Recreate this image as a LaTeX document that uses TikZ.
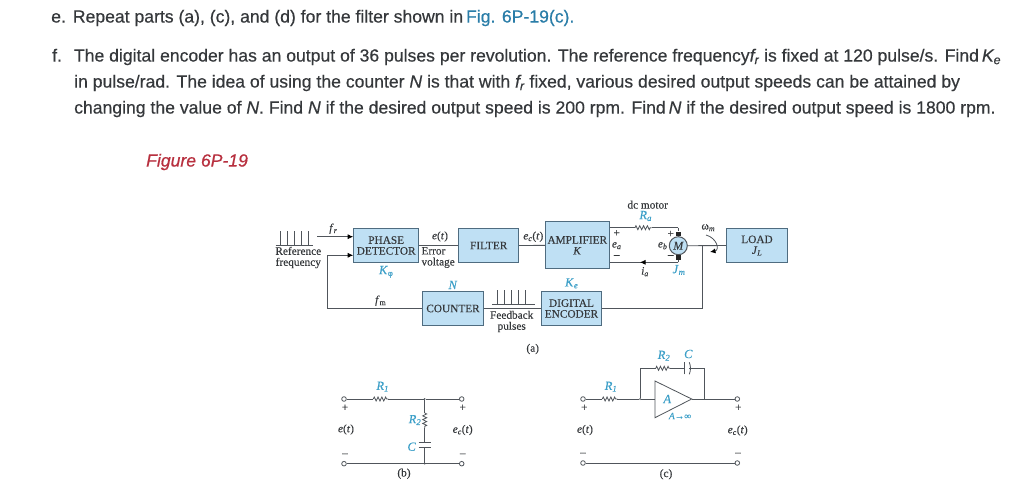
\documentclass[tikz,border=0pt]{standalone}
\usepackage{fontspec}
\setmainfont[FakeBold=0.45]{Liberation Sans}
\newfontfamily\figfont[FakeBold=0.12]{Liberation Serif}
\usepackage{xcolor}
\usetikzlibrary{arrows,arrows.meta,positioning,decorations.pathmorphing}
\definecolor{inkgray}{HTML}{35383B}
\definecolor{figred}{HTML}{B8303F}
\definecolor{figlink}{HTML}{2A7DA8}
\definecolor{wirecol}{HTML}{50555B}
\definecolor{blockfill}{HTML}{BFE0F4}
\definecolor{blockline}{HTML}{4F6C80}
\definecolor{symcol}{HTML}{3C9FC8}
\newcommand{\sym}[2]{\textit{#1}\textsubscript{\textit{#2}}}
\tikzset{
    >=stealth,
    para line/.style={anchor=west,inner sep=0pt,text=inkgray,font=\fontsize{17.6}{18}\selectfont},
    fig text/.style={inner sep=0pt,align=center,text=inkgray,font=\figfont\fontsize{11.3}{11}\selectfont},
    sym text/.style={fig text,text=symcol,font=\figfont\fontsize{12.5}{12}\selectfont},
    block/.style={rectangle,draw=blockline,line width=1pt,fill=blockfill,inner sep=0pt,align=center,text=inkgray,font=\figfont\fontsize{11.3}{10.8}\selectfont},
    wire/.style={draw=wirecol,line width=0.8pt},
    solid tip/.style={-{Latex[length=5.5pt,width=5pt,black]}},
    resistor/.style={wire,decorate,decoration={zigzag,segment length=3.8pt,amplitude=2pt}},
    terminal/.style={circle,draw=wirecol,line width=0.8pt,fill=white,inner sep=0pt,minimum size=4.6pt},
    brush/.style={rectangle,fill=black!85,inner sep=0pt,minimum width=5.5pt,minimum height=4.5pt},
    solder/.style={circle,fill=wirecol,inner sep=0pt,minimum size=2pt}
}
\begin{document}
\begin{tikzpicture}[x=1pt,y=-1pt]
    \useasboundingbox[fill=white] (0,0) rectangle (1011,497);
    % text above the figure
    \node[para line] (linee) at (51,18) {e.\hspace{7pt}Repeat parts (a), (c), and (d) for the filter shown in\,\textcolor{figlink}{Fig. 6P-19(c).}};
    \node[para line] (linef) at (52,57) {f.\hspace{12pt}The digital encoder has an output of 36 pulses per revolution. The reference frequency\textit{f\textsubscript{r}} is fixed at 120 pulse/s. Find\,\textit{K\textsubscript{e}}};
    \node[para line] (lineg) at (74,83) {in pulse/rad. The idea of using the counter \textit{N} is that with \textit{f\textsubscript{r}} fixed, various desired output speeds can be attained by};
    \node[para line] (lineh) at (74,109) {changing the value of \textit{N}. Find \textit{N} if the desired output speed is 200 rpm. Find\,\textit{N} if the desired output speed is 1800 rpm.};
    \node[para line,text=figred] (figname) at (146,162) {\textit{Figure 6P-19}};
    % part (a) blocks
    \node[block,minimum width=65pt,minimum height=33.6pt] (phase) at (386.2,245.5) {PHASE\\DETECTOR};
    \node[block,minimum width=60pt,minimum height=33.6pt] (filter) at (488.7,245.5) {FILTER};
    \node[block,minimum width=64pt,minimum height=46.7pt] (amp) at (577.3,245.3) {AMPLIFIER\\\textit{K}};
    \node[block,minimum width=60.6pt,minimum height=33.6pt] (load) at (757,245.5) {LOAD\\\sym{J}{L}};
    \node[block,minimum width=60.6pt,minimum height=33.6pt] (counter) at (453,308.5) {COUNTER};
    \node[block,minimum width=60.4pt,minimum height=33.6pt] (encoder) at (571.5,308.5) {DIGITAL\\ENCODER};
    \node[circle,draw=wirecol,line width=1pt,fill=blockfill,inner sep=0pt,minimum size=18pt,font=\figfont\fontsize{12}{11}\selectfont\itshape,text=inkgray] (motor) at (678.3,245.7) {M};
    \node[brush] (brushtop) [above = 0pt of motor] {};
    \node[brush] (brushbot) [below = 0pt of motor] {};
    % part (a) free ends
    \coordinate (frstart) at (317.3,236.7);
    \coordinate (frend) at (phase.west |- frstart);
    \coordinate (fbend) at (phase.west |- 0,255.3);
    \coordinate (fbcorner) at (327.7,255.3);
    \coordinate (fbdown) at (327.7,308.5);
    \coordinate (shaft) at (702,245.5);
    \coordinate (shaftdown) at (702,308.5);
    \coordinate (ampup) at (amp.east |- 0,227.7);
    \coordinate (ampdown) at (amp.east |- 0,262.3);
    \coordinate (ra1) at (635,227.7);
    \coordinate (ra2) at (651.7,227.7);
    \coordinate (motorup) at (678.3,227.7);
    \coordinate (motordown) at (678.3,262.3);
    \coordinate (iarrow) at (640,262.3);
    \coordinate (refl) at (275.7,245.3);
    \coordinate (refr) at (313.3,245.3);
    \coordinate (pulsel) at (492.3,304.4);
    \coordinate (pulser) at (535,304.4);
    \path[wire]
        (frstart) edge [solid tip] (frend)
        (fbcorner) edge [solid tip] (fbend)
        (fbdown) edge (fbcorner)
        (counter) edge (fbdown)
        (counter) edge (encoder)
        (phase) edge (filter)
        (filter) edge (amp)
        (ampup) edge (ra1)
        (ra2) edge (motorup)
        (motorup) edge (brushtop)
        (ampdown) edge (motordown)
        (motordown) edge (brushbot)
        (motordown) edge [solid tip] (iarrow)
        (motor) edge (load)
        (shaft) edge (shaftdown)
        (shaftdown) edge (encoder)
        (refl) edge (refr)
        (pulsel) edge (pulser);
    \draw[resistor] (ra1) -- (ra2);
    \foreach \tick in {5,12,19,26,33} {
        \draw[wire] ([xshift=\tick pt]refl) -- ++(0,-14);
        \draw[wire] ([xshift=\tick pt]pulsel) -- ++(0,-14);
    }
    % speed arrow
    \coordinate (omegaa) at (706,235);
    \coordinate (omegab) at (710,252);
    \draw[wire,solid tip] (omegaa) .. controls (717,238) and (720,250) .. (omegab);
    % part (a) labels
    \node[fig text] (reflabel) at (298.3,257.5) {Reference\\frequency};
    \node[fig text] (frlabel) at (333.3,228.7) {\sym{f}{r}};
    \node[fig text] (etlabel) at (440,236.5) {\textit{e}(\textit{t})};
    \node[fig text,align=left,anchor=west] (errlabel) at (421.3,257.5) {Error\\voltage};
    \node[sym text] (kphi) [below = 3pt of phase] {\textit{K}\textsubscript{φ}};
    \node[sym text] (nlabel) [above = 2pt of counter] {\textit{N}};
    \node[fig text] (fmlabel) at (380.7,300.7) {\textit{f}\textsubscript{m}};
    \node[fig text] (feedlabel) at (511.7,321.5) {Feedback\\pulses};
    \node[sym text] (kelabel) at (571.7,283.3) {\sym{K}{e}};
    \node[fig text] (eclabel) at (533.3,236.7) {\sym{e}{c}(\textit{t})};
    \node[fig text] (dclabel) at (647.7,204.7) {dc motor};
    \node[sym text] (ralabel) at (645.7,216) {\sym{R}{a}};
    \node[fig text] (eaplus) at (616.7,233.3) {+};
    \node[fig text] (ealabel) at (616.7,245.7) {\sym{e}{a}};
    \node[fig text] (eaminus) at (616.7,256.7) {\textendash};
    \node[fig text] (ebplus) at (670.7,234) {+};
    \node[fig text] (eblabel) at (662.7,245.7) {\sym{e}{b}};
    \node[fig text] (ebminus) at (670.7,256.7) {\textendash};
    \node[fig text] (ialabel) at (645,271.7) {\sym{i}{a}};
    \node[sym text] (jmlabel) at (679,270) {\sym{J}{m}};
    \node[fig text] (omlabel) at (708.3,227.7) {ω\textsubscript{\textit{m}}};
    \node[fig text] (parta) at (532.7,349) {(a)};
    % part (b)
    \node[terminal] (bin) at (344,399) {};
    \node[terminal] (bout) at (461.7,399) {};
    \node[terminal] (bgnd) at (344,463.7) {};
    \node[terminal] (bgndr) at (461.7,463.7) {};
    \node[solder] (bjoin) at (424.7,399) {};
    \node[solder] (bjoinb) at (424.7,463.7) {};
    \coordinate (br1a) at (373.3,399);
    \coordinate (br1b) at (388.3,399);
    \coordinate (br2a) at (424.7,413);
    \coordinate (br2b) at (424.7,428);
    \coordinate (bcapa) at (424.7,442.7);
    \coordinate (bcapb) at (424.7,447.3);
    \path[wire]
        (bin) edge (br1a)
        (br1b) edge (bjoin)
        (bjoin) edge (bout)
        (bjoin) edge (br2a)
        (br2b) edge (bcapa)
        (bcapb) edge (bjoinb)
        (bgnd) edge (bgndr)
        ([xshift=-6pt]bcapa) edge ([xshift=6pt]bcapa)
        ([xshift=-6pt]bcapb) edge ([xshift=6pt]bcapb);
    \draw[resistor] (br1a) -- (br1b);
    \draw[resistor] (br2a) -- (br2b);
    \node[sym text] (br1label) at (382.7,386.7) {\sym{R}{1}};
    \node[sym text] (br2label) at (415,420) {\sym{R}{2}};
    \node[sym text] (bclabel) at (411.7,446.7) {\textit{C}};
    \node[fig text] (bplusl) at (345,407.7) {+};
    \node[fig text] (bplusr) at (462.7,407.7) {+};
    \node[fig text] (bminusl) at (345,455) {\textendash};
    \node[fig text] (bminusr) at (462.7,455) {\textendash};
    \node[fig text] (betl) at (346,429.5) {\textit{e}(\textit{t})};
    \node[fig text] (betr) at (462.7,430) {\sym{e}{c}(\textit{t})};
    \node[fig text] (partb) at (404,473.7) {(b)};
    % part (c)
    \node[terminal] (cin) at (583,399) {};
    \node[terminal] (cout) at (737.3,399) {};
    \node[terminal] (cgnd) at (583,463) {};
    \node[terminal] (cgndr) at (737.3,463) {};
    \node[solder] (cjoin) at (640,399) {};
    \coordinate (cr1a) at (602.3,399);
    \coordinate (cr1b) at (617.3,399);
    \coordinate (cr2a) at (655.7,368.3);
    \coordinate (cr2b) at (670,368.3);
    \coordinate (ccapa) at (684,368.3);
    \coordinate (ccapb) at (689.3,368.3);
    \coordinate (cfbl) at (640,368.3);
    \coordinate (cfbr) at (704,368.3);
    \coordinate (cdrop) at (704,399);
    \coordinate (ampl) at (655,399);
    \coordinate (tip) at (691.7,399);
    \coordinate (tritop) at (655,381);
    \coordinate (tribot) at (655,417.7);
    \draw[wire] (tritop) -- (tribot) -- (tip) -- cycle;
    \path[wire]
        (cin) edge (cr1a)
        (cr1b) edge (cjoin)
        (cjoin) edge (ampl)
        (cjoin) edge (cfbl)
        (cfbl) edge (cr2a)
        (cr2b) edge (ccapa)
        (ccapb) edge (cfbr)
        (cfbr) edge (cdrop)
        (tip) edge (cout)
        (cgnd) edge (cgndr)
        ([yshift=-6pt]ccapa) edge ([yshift=6pt]ccapa);
    \draw[wire] ([yshift=-6pt]ccapb) to[bend right=20] ([yshift=6pt]ccapb);
    \draw[resistor] (cr1a) -- (cr1b);
    \draw[resistor] (cr2a) -- (cr2b);
    \node[sym text] (cr1label) at (611,386.7) {\sym{R}{1}};
    \node[sym text] (cr2label) at (664,355.7) {\sym{R}{2}};
    \node[sym text] (cclabel) at (688.3,354) {\textit{C}};
    \node[sym text] (alabel) at (667.3,399) {\textit{A}};
    \node[sym text,font=\figfont\fontsize{9.5}{10}\selectfont] (alimit) at (680,416) {\textit{A}→∞};
    \node[fig text] (cplusl) at (584.3,407.7) {+};
    \node[fig text] (cplusr) at (738.3,407.7) {+};
    \node[fig text] (cminusl) at (583,454.3) {\textendash};
    \node[fig text] (cminusr) at (738,454.3) {\textendash};
    \node[fig text] (cetl) at (585,430) {\textit{e}(\textit{t})};
    \node[fig text] (cetr) at (737.7,430.5) {\sym{e}{c}(\textit{t})};
    \node[fig text] (partc) at (666,474.3) {(c)};
\end{tikzpicture}
\end{document}
